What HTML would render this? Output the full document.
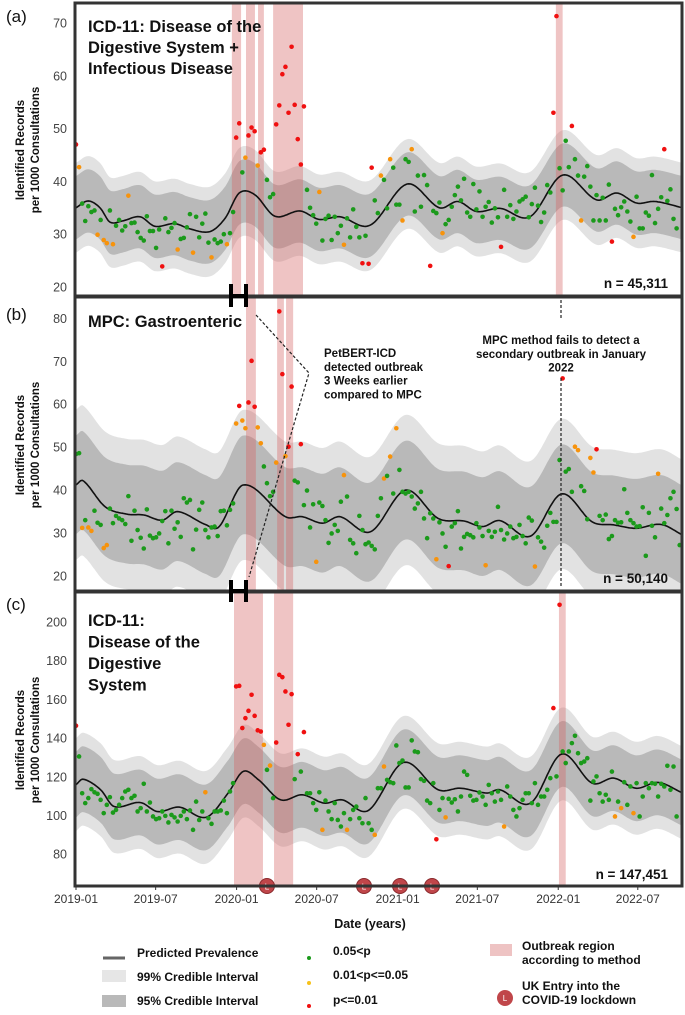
<!DOCTYPE html>
<html><head><meta charset="utf-8"><style>
html,body{margin:0;padding:0;background:#fff;}
svg{display:block;font-family:"Liberation Sans",sans-serif;}
</style></head><body>
<svg id="chart" width="685" height="1015" viewBox="0 0 685 1015" xmlns="http://www.w3.org/2000/svg">
<defs>
<clipPath id="clipA"><rect x="76" y="4" width="606" height="291"/></clipPath>
<clipPath id="clipB"><rect x="76" y="298" width="606" height="292"/></clipPath>
<clipPath id="clipC"><rect x="76" y="593" width="606" height="292"/></clipPath>
</defs>
<g id="layer"></g>
</svg>
<script>
// ---------- DATA ----------
const xTickLabels=['2019-01','2019-07','2020-01','2020-07','2021-01','2021-07','2022-01','2022-07'];
const xTickWeeks=[0,25.86,52.14,78.14,104.43,130.3,156.57,182.4];
const lockdownWeeks=[62,93.5,105.2,115.6];

// Panel A
const aKnotWeeks=[0,3.9,7.8,11,15,20.8,25.6,32,37,43.5,48.4,53,58,64.6,72.7,79,85.7,95.5,107.5,118,124,130,137.7,147.4,158,169,175.6,182,188,197];
const aPred=[35,36.3,35,32.3,32.5,33.3,31.5,32,31,30.5,33,37.8,37.5,33.4,34.4,32.8,33.3,31.7,39.5,35,36.2,34.3,34.9,33.3,41.2,36.5,37.8,35.9,36.2,35];
const aCI95=[6];
const aCI99=[8.5];
const aValues=[47,42.7,35.8,32.5,35.3,34.2,34.5,29.9,32.7,28.9,28.3,34.5,28.1,31.6,32.7,30.7,31.5,37.3,32.1,32.2,30.4,29.3,28.8,33.4,30.6,30.6,27.4,30.9,23.9,33,30.4,31.2,32.1,27.1,29.1,29.3,31.3,33.8,26.5,33.3,29.4,32,33.9,28.4,25.6,29,28.3,28.6,30,28.1,30.2,34.2,48.3,51,41.7,44.5,48.7,50.2,49.5,43,45.5,46,40.3,37,37.6,50.8,54.4,60.3,61.7,53,65.5,54.5,48,43.2,54.2,38.4,35,33.6,32,38,28.8,32.9,33.5,
28.9,33.3,30.2,31.6,28,33,29.4,34.7,31.4,29.4,24.5,29.7,24.4,42.6,36.4,34,41.1,40.3,34.9,44.2,42.6,35.6,35.6,32.6,44.2,43.7,46.1,34.3,41.1,35.2,41.2,39.3,24,34.4,34,36,30.2,31.9,32.7,35.2,37.4,39,36.4,40.5,34.1,33.3,39.5,34.7,38.1,33.3,35.2,36.1,32.2,34.9,33.2,27.6,38.4,33.3,35.5,32.9,34.3,36.2,36.6,37.1,33.2,35.7,38.8,35.4,32.3,34.1,39.3,37.9,53,71.3,42.5,38.3,47.7,42.7,50.5,44.2,41.1,32.6,40.9,42.9,39,32.6,37.4,32.6,36.9,32.6,39.4,28.6,34.8,33.6,35.1,36.2,34.3,32.4,29.5,37.1,31.1,31.1,34.1,33.5,41.2,32.1,34.8,37,46.1,36.3,38.5,32.9,31.1];
const aOrange=[1,7,9,10,12,17,33,38,44,49,55,59,79,87,99,102,106,109,119,164,181];
const aRed=[0,28,52,53,56,57,58,60,61,65,66,67,68,69,70,71,72,73,74,93,95,96,115,138,155,156,161,174,191];
const aOutStart=[50.6,55.2,59.1,64,155.8];
const aOutEnd=[53.6,58.1,61,73.7,158];

// Panel B
const bKnotWeeks=[0,2.3,9.5,16.6,22,28,33,42,46.5,54.3,68,73.5,80,85.7,95.6,107,117.6,126,132,137.6,147.6,157.6,167.6,174.6,181.8,190,197];
const bPred=[41.2,42.2,36.1,34.4,34.2,33,35,32,31.5,41.2,33.8,33.8,32.3,33.8,30.3,40,33.4,32.8,31.5,32.9,29.3,39.1,32.6,31.9,31.1,32,29.5];
const bCI95=[11.5];
const bCI99=[17.5];
const bValues=[48.4,48.6,31.2,33,31.3,30.5,35.2,32.4,31.9,26.5,27.2,35.7,32.3,34,33.4,33,32.1,38.6,28.2,35.2,30.7,28.9,26.4,35.5,29.4,28.8,29,29.9,32.8,35.1,27.6,35.2,31,32.5,29.1,38.1,37.1,37.7,26.2,30.8,35.4,37.1,30.7,29,31.3,31.5,29.3,35.1,35.2,31.8,35.4,36.9,55.5,59.6,56.2,54.4,60.4,70.1,59.4,54.6,50.9,45.5,41.6,38.6,39.6,46.4,81.6,67,47.9,50.1,64.1,42.2,41.8,50.7,36.5,39.9,31.3,36.7,23.3,37.1,36.3,33,27.7,29.9,31.9,30.5,37.3,43.5,38.5,28.4,27.6,25.3,34,30.7,27.4,27.8,27,26.2,34,38.1,42.7,43.3,47.8,39.2,54.4,44.7,39.6,39.2,39.6,38.5,35.7,36.9,39.6,33.4,28.8,34.6,33.4,23.9,32.5,29.9,26.8,22.3,31.5,32.3,35.1,26.4,29.1,29.8,29.5,29,32.3,31.3,29.3,22.5,30.5,29.1,30.3,36.1,30.7,28.5,29.9,31.5,28.8,29.1,31.9,29.3,27.6,33.6,32.9,22.2,29,28,26.6,31.7,34.7,32.6,32.6,47,66,44.3,44.9,39.6,50.1,49.3,40.9,39.8,33.2,47.5,44.1,49.5,34,33,34.3,28.6,29.3,33,32.4,32.5,40.2,34.7,33,32.3,31.5,31.6,36,24.7,34.7,31.7,29,43.8,35.7,32.3,34.2,38.1,39.6,35.6,27.2];
const bOrange=[2,4,5,9,10,52,54,55,59,60,65,68,78,87,100,102,104,117,133,149,162,163,167,168,189];
const bRed=[53,56,57,58,66,67,69,70,73,121,158,169];
const bOutStart=[55.2,65.3,68.2];
const bOutEnd=[58.4,67.5,70.5];

// Panel C
const cKnotWeeks=[0,2.3,8,12.3,20.9,26.5,33.6,42.3,49.4,54.3,59.3,66.4,73.5,80.6,86.4,94.9,106.3,117.6,124.8,133.4,137.6,147.6,157.6,167.6,174.6,181.8,189,197];
const cPred=[115.9,118.8,113.3,104.7,106.7,102,104.3,99.1,111.6,122.8,118.4,108.1,110.7,106.4,108.1,102.6,127.4,113.3,114.1,111.6,113.3,106.4,131.7,116.7,119.3,114.1,117.1,111.6];
const cCI95=[17];
const cCI99=[24];
const cValues=[146.4,130.5,111.5,106.4,109,113.6,112,111.2,108.1,101.2,105.5,109.5,101.5,102.9,105.5,109,112.4,113.3,109,110.2,102.1,103.8,116.4,102.1,106.7,99.5,98.1,98.6,102.1,99.8,96.4,100.3,99,96.9,99.8,102.1,98.1,102.6,92.6,107.2,97.7,102.1,112,98.6,95.7,102.1,102.1,102.6,107.7,101.2,112.4,116.7,166.7,167,145.2,150.3,154.1,162.4,151.5,144,143.4,136.5,123.6,125.8,109,137.7,172.7,171.5,164.1,146.9,162.7,118.8,131.7,122.7,143.1,111.5,111.5,106.4,102.9,112,92.6,107.7,102.1,98.1,106.4,97.7,94.3,101.2,92.6,98.1,102.9,104.6,98.6,96,109,96,92.6,90,114.1,114.1,125.3,118.4,117.2,116.7,136.2,127.1,128.4,114.5,114.5,138.8,133.1,132.7,118.8,117.9,107.7,106.4,116.7,87.7,102.9,109,99,108.6,106.7,108.4,102.1,109.8,122.7,121,110.2,107.7,108.1,111.9,109.8,105.5,115.8,111.5,107.2,112.4,108.1,94.3,115,109.8,102.9,99.5,103.8,108.1,111.5,111.5,106.4,116.7,105.5,109.8,109.8,113.3,119.3,155.5,120.2,208.9,133.1,127.1,133.1,137.4,141.2,132.2,127.1,127.9,129.6,107.7,117.6,120.2,111.5,107.2,110.7,108.1,122.7,99.5,107.2,103.8,117.2,105.5,115,101.2,116.7,99.5,109.8,116.7,114.1,116.7,116.4,109.8,116.4,115,125.7,113.3,125.3,99.5];
const cOrange=[42,61,63,80,88,97,100,120,139,175,177,181];
const cRed=[0,52,53,54,55,56,57,58,59,60,65,66,67,68,69,70,72,74,117,155,157];
const cOutStart=[51.3,64.3,156.8];
const cOutEnd=[60.7,70.5,159];

// ---------- HELPERS ----------
const NS='http://www.w3.org/2000/svg';
const layer=document.getElementById('layer');
const xS=w=>76+w*3.08;
function mk(tag,attrs,parent){const e=document.createElementNS(NS,tag);for(const k in attrs)e.setAttribute(k,attrs[k]);(parent||layer).appendChild(e);return e;}
function interp(xs,ys,x){
  let i=0;while(i<xs.length-2&&x>xs[i+1])i++;
  const h=xs[i+1]-xs[i];let t=(x-xs[i])/h;t=Math.max(0,Math.min(1,t));
  const m=j=>{if(j<=0)return (ys[1]-ys[0])/(xs[1]-xs[0]);if(j>=xs.length-1)return (ys[j]-ys[j-1])/(xs[j]-xs[j-1]);return (ys[j+1]-ys[j-1])/(xs[j+1]-xs[j-1]);};
  const t2=t*t,t3=t2*t;
  return (2*t3-3*t2+1)*ys[i]+(t3-2*t2+t)*h*m(i)+(-2*t3+3*t2)*ys[i+1]+(t3-t2)*h*m(i+1);
}

function drawPanel(key,cfg){
  const {top,bot,yS,ticks,knots,pred,ci95,ci99,vals,orange,red,outS,outE,clip}=cfg;
  const g=mk('g',{'clip-path':'url(#'+clip+')'});
  
  
  const samples=[];for(let w=0;w<=197;w+=0.5)samples.push(w);
  const band=(hw,fill,name)=>{
    let up=samples.map(w=>xS(w).toFixed(1)+','+yS(interp(knots,pred,w)+hw).toFixed(1));
    let lo=samples.slice().reverse().map(w=>xS(w).toFixed(1)+','+yS(interp(knots,pred,w)-hw).toFixed(1));
    const p=mk('polygon',{points:up.concat(lo).join(' '),fill:fill},g);
    
    
  };
  band(ci99[0],'#e2e2e2','credible-interval-99');
  band(ci95[0],'#b9b9b9','credible-interval-95');
  outS.forEach((s,i)=>{
    const r=mk('rect',{x:xS(s),y:top,width:xS(outE[i])-xS(s),height:bot-top,fill:'rgba(214,100,100,0.38)'},g);
    
    
  });
  const line=mk('path',{d:'M'+samples.map(w=>xS(w).toFixed(1)+','+yS(interp(knots,pred,w)).toFixed(1)).join('L'),fill:'none',stroke:'#111','stroke-width':1.6},g);
  
  
  vals.forEach((v,i)=>{
    const col=red.includes(i)?'#f01010':orange.includes(i)?'#f7930c':'#1b9a1b';
    const c=mk('circle',{cx:xS(i),cy:yS(v),r:2.3,fill:col},g);
    
    
  });
  ticks.forEach(t=>{
    const tx=mk('text',{x:67,y:yS(t)+4.5,'text-anchor':'end','font-size':12.5,fill:'#444'});
    
    
    tx.textContent=t;
  });
}
drawPanel('a',{top:4,bot:295,yS:v=>23+(70-v)*5.28,ticks:[20,30,40,50,60,70],knots:aKnotWeeks,pred:aPred,ci95:aCI95,ci99:aCI99,vals:aValues,orange:aOrange,red:aRed,outS:aOutStart,outE:aOutEnd,clip:'clipA'});
drawPanel('b',{top:298,bot:590,yS:v=>318.3+(80-v)*4.295,ticks:[20,30,40,50,60,70,80],knots:bKnotWeeks,pred:bPred,ci95:bCI95,ci99:bCI99,vals:bValues,orange:bOrange,red:bRed,outS:bOutStart,outE:bOutEnd,clip:'clipB'});
drawPanel('c',{top:593,bot:885,yS:v=>622+(200-v)*1.935,ticks:[80,100,120,140,160,180,200],knots:cKnotWeeks,pred:cPred,ci95:cCI95,ci99:cCI99,vals:cValues,orange:cOrange,red:cRed,outS:cOutStart,outE:cOutEnd,clip:'clipC'});

// x ticks
xTickWeeks.forEach((w,i)=>{
  const tk=mk('line',{x1:xS(w),x2:xS(w),y1:886,y2:890,stroke:'#333','stroke-width':1});
  
  
  const t=mk('text',{x:xS(w),y:903,'text-anchor':'middle','font-size':12,fill:'#333'});
  
  
  t.textContent=xTickLabels[i];
});
// lockdown markers
lockdownWeeks.forEach(w=>{
  const g=mk('g',{});
  
  
  mk('circle',{cx:xS(w),cy:886,r:7.5,fill:'#c0464a',stroke:'#8a2a2d','stroke-width':1},g);
  const t=mk('text',{x:xS(w),y:889.5,'text-anchor':'middle','font-size':8,fill:'#fff'},g);
  t.textContent='L';
});
</script>
<svg width="0" height="0"></svg>
<script>
const svg=document.getElementById('chart');
svg.insertAdjacentHTML('beforeend',`
<g fill="none" stroke="#333" stroke-width="3">
<rect x="75" y="3" width="607" height="293"/>
<rect x="75" y="297" width="607" height="294"/>
<rect x="75" y="592" width="607" height="294"/>
</g>
<g stroke="#000" stroke-width="4">
<line x1="231" y1="284" x2="231" y2="307"/><line x1="246" y1="284" x2="246" y2="307"/><line x1="229" y1="296" x2="248" y2="296"/>
<line x1="231" y1="580" x2="231" y2="602"/><line x1="246" y1="580" x2="246" y2="602"/><line x1="229" y1="591" x2="248" y2="591"/>
</g>
<g fill="none" stroke="#222" stroke-width="1.2" stroke-dasharray="3,2">
<polyline points="256,315 309,373 249,577"/>
<line x1="561" y1="300" x2="561" y2="318"/>
<line x1="561" y1="378" x2="561" y2="586"/>
</g>
<g font-weight="bold" fill="#111">
<text x="6" y="22" font-size="17" font-weight="normal">(a)</text>
<text x="6" y="320" font-size="17" font-weight="normal">(b)</text>
<text x="6" y="610" font-size="17" font-weight="normal">(c)</text>
<text font-size="16.5" x="88" y="32">ICD-11: Disease of the<tspan x="88" dy="21">Digestive System +</tspan><tspan x="88" dy="21">Infectious Disease</tspan></text>
<text font-size="16.5" x="88" y="327">MPC: Gastroenteric</text>
<text font-size="16.5" x="88" y="626">ICD-11:<tspan x="88" dy="21.5">Disease of the</tspan><tspan x="88" dy="21.5">Digestive</tspan><tspan x="88" dy="21.5">System</tspan></text>
<text font-size="13.5" x="668" y="288" text-anchor="end">n = 45,311</text>
<text font-size="13.5" x="668" y="583" text-anchor="end">n = 50,140</text>
<text font-size="13.5" x="668" y="879" text-anchor="end">n = 147,451</text>
<text font-size="11.5" x="324" y="357">PetBERT-ICD<tspan x="324" dy="13.8">detected outbreak</tspan><tspan x="324" dy="13.8">3 Weeks earlier</tspan><tspan x="324" dy="13.8">compared to MPC</tspan></text>
<text font-size="11.5" x="561" y="344" text-anchor="middle">MPC method fails to detect a<tspan x="561" dy="13.8">secondary outbreak in January</tspan><tspan x="561" dy="13.8">2022</tspan></text>
<text font-size="12.5" x="370" y="928" text-anchor="middle">Date (years)</text>
</g>
<g font-weight="bold" fill="#111" font-size="11.5" text-anchor="middle">
<text transform="translate(24,150) rotate(-90)">Identified Records<tspan x="0" dy="15">per 1000 Consultations</tspan></text>
<text transform="translate(24,445) rotate(-90)">Identified Records<tspan x="0" dy="15">per 1000 Consultations</tspan></text>
<text transform="translate(24,740) rotate(-90)">Identified Records<tspan x="0" dy="15">per 1000 Consultations</tspan></text>
</g>
<g font-weight="bold" font-size="12" fill="#111">
<line x1="103" y1="958" x2="125" y2="958" stroke="#666" stroke-width="3"/>
<text x="137" y="957">Predicted Prevalence</text>
<rect x="102" y="970" width="24" height="12" fill="#e6e6e6"/>
<text x="137" y="981">99% Credible Interval</text>
<rect x="102" y="995" width="24" height="12" fill="#b9b9b9"/>
<text x="137" y="1005">95% Credible Interval</text>
<circle cx="309" cy="958" r="2" fill="#1b9a1b"/>
<text x="333" y="955">0.05&lt;p</text>
<circle cx="309" cy="983" r="2" fill="#f7c21a"/>
<text x="333" y="979">0.01&lt;p&lt;=0.05</text>
<circle cx="309" cy="1006" r="2" fill="#f01010"/>
<text x="333" y="1004">p&lt;=0.01</text>
<rect x="490" y="944" width="22" height="12" fill="#eec3c3"/>
<text x="522" y="950">Outbreak region</text>
<text x="522" y="964">according to method</text>
<circle cx="505" cy="998" r="8" fill="#c0464a"/>
<text x="505" y="1001" font-size="8" font-weight="normal" fill="#fff" text-anchor="middle">L</text>
<text x="522" y="990">UK Entry into the</text>
<text x="522" y="1004">COVID-19 lockdown</text>
</g>`);
</script>
</body></html>
